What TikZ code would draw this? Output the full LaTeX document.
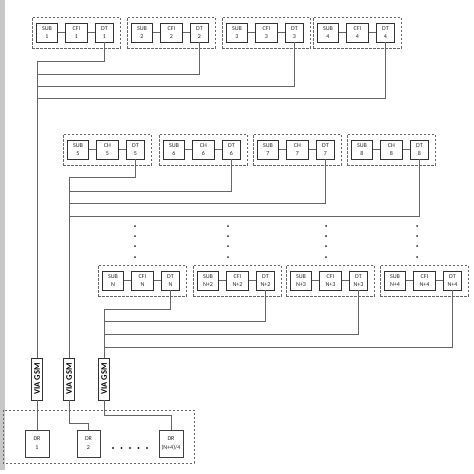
\documentclass[tikz,border=0pt]{standalone}
\usepackage{fontspec}
\setmainfont{Carlito}
\begin{document}
\begin{tikzpicture}[x=1pt,y=-1pt,
  grp/.style={draw=black!60, dash pattern=on 2.4pt off 1.6pt, line width=0.9pt, inner sep=0pt, minimum width=88pt, minimum height=31pt, anchor=north west},
  dashrect/.style={draw=black!60, dash pattern=on 2.4pt off 1.6pt, line width=0.9pt},
  unit/.style={draw=black!80, line width=0.9pt, minimum height=19pt, inner sep=0pt, align=center, font=\fontsize{6}{8}\selectfont, text=black!85, anchor=west},
  subbox/.style={unit, minimum width=21pt},
  midbox/.style={unit, minimum width=22pt},
  dtbox/.style={unit, minimum width=18pt},
  wire/.style={draw=black!60, line width=0.9pt},
  gsm/.style={draw=black!80, line width=0.9pt, minimum width=11pt, minimum height=42pt, inner sep=0pt, font=\fontsize{8.5}{9}\selectfont\bfseries},
  drbox/.style={draw=black!75, line width=0.8pt, minimum width=24pt, minimum height=27pt, inner sep=0pt, align=center, font=\fontsize{6}{9}\selectfont, text=black!85}
]
\useasboundingbox (0,0) rectangle (474,474);
\fill[black!22] (0,0) rectangle (5,470);

\foreach \n/\gx/\gy/\lab/\md in {1/32/17/1/CFI, 2/127/17/2/CFI, 3/222/17/3/CFI, 4/313/17/4/CFI,
  5/63/134/5/CH, 6/159/134/6/CH, 7/253/134/7/CH, 8/347/134/8/CH,
  9/98/265/N/CFI, 10/193/265/N+2/CFI, 11/286/265/N+3/CFI, 12/380/265/N+4/CFI} {
  \node[grp] (g\n) at (\gx,\gy) {};
  \node[subbox] (s\n) at (\gx+4,\gy+15.5) {SUB\\\lab};
  \node[midbox] (c\n) at (\gx+33,\gy+15.5) {\md\\\lab};
  \node[dtbox] (d\n) at (\gx+63,\gy+15.5) {DT\\\lab};
  \draw[wire] (s\n) -- (c\n) (c\n) -- (d\n);
}

% bus coordinates
\coordinate (a1) at (37,61);
\coordinate (a2) at (37,74);
\coordinate (a3) at (37,86);
\coordinate (a4) at (37,98);
\coordinate (a5) at (69,177);
\coordinate (a6) at (69,191);
\coordinate (a7) at (69,203);
\coordinate (a8) at (69,216);
\coordinate (a9) at (104,309);
\coordinate (a10) at (104,321);
\coordinate (a11) at (104,334);
\coordinate (a12) at (104,347);
\foreach \n in {1,...,12} {\draw[wire] (d\n.south) |- (a\n);}

% vertical dots
\foreach \x in {135,228,326,417} \foreach \y in {226,236,246,257} \fill[black!85] (\x,\y) circle (1pt);

% GSM links
\node[gsm] (gsm1) at (37,379) {\rotatebox{90}{VIA GSM}};
\node[gsm] (gsm2) at (69,379) {\rotatebox{90}{VIA GSM}};
\node[gsm] (gsm3) at (104,379) {\rotatebox{90}{VIA GSM}};
\draw[wire] (a1) -- (gsm1.north);
\draw[wire] (a5) -- (gsm2.north);
\draw[wire] (a9) -- (gsm3.north);

% bottom area
\draw[dashrect] (3,410) rectangle (194,463);
\node[drbox] (dr1) at (37,443.5) {DR\\1};
\node[drbox, minimum width=23pt] (dr2) at (88.5,443.5) {DR\\2};
\node[drbox] (dr3) at (171,443.5) {DR\\(N+4)/4};
\coordinate (k2) at (69,423);
\coordinate (k3) at (104,415);
\draw[wire] (gsm1.south) -- (dr1.north);
\draw[wire] (gsm2.south) -- (k2) -| (dr2.north);
\draw[wire] (gsm3.south) -- (k3) -| (dr3.north);
\foreach \x in {113,121.5,130,138.5,147} \fill[black!85] (\x,448) circle (1.1pt);
\end{tikzpicture}
\end{document}
